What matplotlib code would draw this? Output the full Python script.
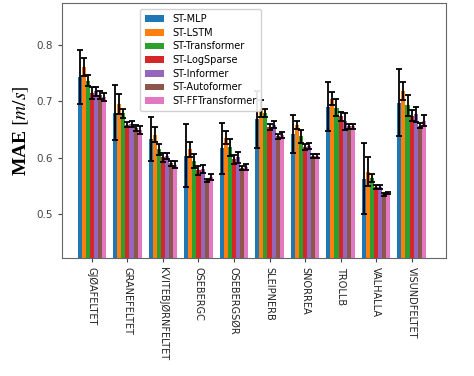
import matplotlib
matplotlib.use("Agg")
import matplotlib.pyplot as plt
import numpy as np

plt.rcParams["mathtext.fontset"] = "stix"

sites = ["GJØAFELTET", "GRANEFELTET", "KVITEBJØRNFELTET", "OSEBERGC", "OSEBERGSØR",
         "SLEIPNERB", "SNORREA", "TROLLB", "VALHALLA", "VISUNDFELTET"]
models = ["ST-MLP", "ST-LSTM", "ST-Transformer", "ST-LogSparse", "ST-Informer",
          "ST-Autoformer", "ST-FFTransformer"]

mlp = [0.744, 0.680, 0.633, 0.604, 0.617, 0.668, 0.642, 0.691, 0.563, 0.698]
lstm = [0.761, 0.695, 0.641, 0.615, 0.636, 0.687, 0.658, 0.705, 0.575, 0.719]
transformer = [0.737, 0.679, 0.615, 0.594, 0.619, 0.680, 0.638, 0.689, 0.564, 0.693]
logsparse = [0.715, 0.659, 0.601, 0.578, 0.597, 0.655, 0.619, 0.674, 0.548, 0.675]
informer = [0.718, 0.660, 0.603, 0.580, 0.601, 0.659, 0.621, 0.665, 0.548, 0.677]
autoformer = [0.712, 0.653, 0.590, 0.560, 0.582, 0.638, 0.603, 0.656, 0.535, 0.657]
fftransformer = [0.708, 0.650, 0.588, 0.566, 0.584, 0.640, 0.603, 0.656, 0.538, 0.666]

mlp_err = [0.048, 0.049, 0.039, 0.056, 0.045, 0.051, 0.034, 0.044, 0.063, 0.059]
lstm_err = [0.016, 0.018, 0.013, 0.013, 0.012, 0.015, 0.007, 0.012, 0.026, 0.016]
transformer_err = [0.010, 0.008, 0.010, 0.012, 0.015, 0.007, 0.012, 0.015, 0.007, 0.019]
logsparse_err = [0.010, 0.004, 0.008, 0.008, 0.008, 0.005, 0.005, 0.008, 0.004, 0.010]
informer_err = [0.008, 0.005, 0.006, 0.007, 0.010, 0.006, 0.005, 0.015, 0.004, 0.013]
autoformer_err = [0.007, 0.006, 0.005, 0.003, 0.004, 0.004, 0.003, 0.004, 0.003, 0.004]
fftransformer_err = [0.007, 0.007, 0.006, 0.006, 0.005, 0.005, 0.004, 0.004, 0.002, 0.010]

values = [mlp, lstm, transformer, logsparse, informer, autoformer, fftransformer]
errors = [mlp_err, lstm_err, transformer_err, logsparse_err, informer_err,
          autoformer_err, fftransformer_err]
colors = ["#1f77b4", "#ff7f0e", "#2ca02c", "#d62728", "#9467bd", "#8c564b", "#e377c2"]

fig = plt.figure(figsize=(4.74, 3.76), dpi=100)
ax = fig.add_axes([0.131, 0.314, 0.810, 0.678])

x = np.arange(len(sites))
w = 0.8 / len(models)
for i, (m, v, e, c) in enumerate(zip(models, values, errors, colors)):
    ax.bar(x + (i - 3) * w, v, w, yerr=e, color=c, label=m,
           error_kw=dict(ecolor="black", capsize=2, elinewidth=1.3, capthick=1.3))

ax.set_xlim(-0.84, 9.97)
ax.set_ylim(0.422, 0.875)
ax.set_yticks([0.5, 0.6, 0.7, 0.8])
ax.set_xticks(x)
ax.set_xticklabels(sites, rotation=270, fontsize=7)
ax.tick_params(axis="y", labelsize=7.5, colors="#444444", length=3)
ax.tick_params(axis="x", length=3, colors="#444444")
for lbl in ax.get_xticklabels():
    lbl.set_color("#222222")
for s in ax.spines.values():
    s.set_color("#666666")

ax.set_ylabel(r"MAE $[m/s]$", fontsize=14, family="Liberation Serif", fontweight="bold")

ax.legend(loc="upper left", bbox_to_anchor=(0.19, 0.995), fontsize=7,
          handlelength=2.0, labelspacing=0.38, borderpad=0.5, framealpha=0.9)

fig.savefig("out.png", dpi=100)
